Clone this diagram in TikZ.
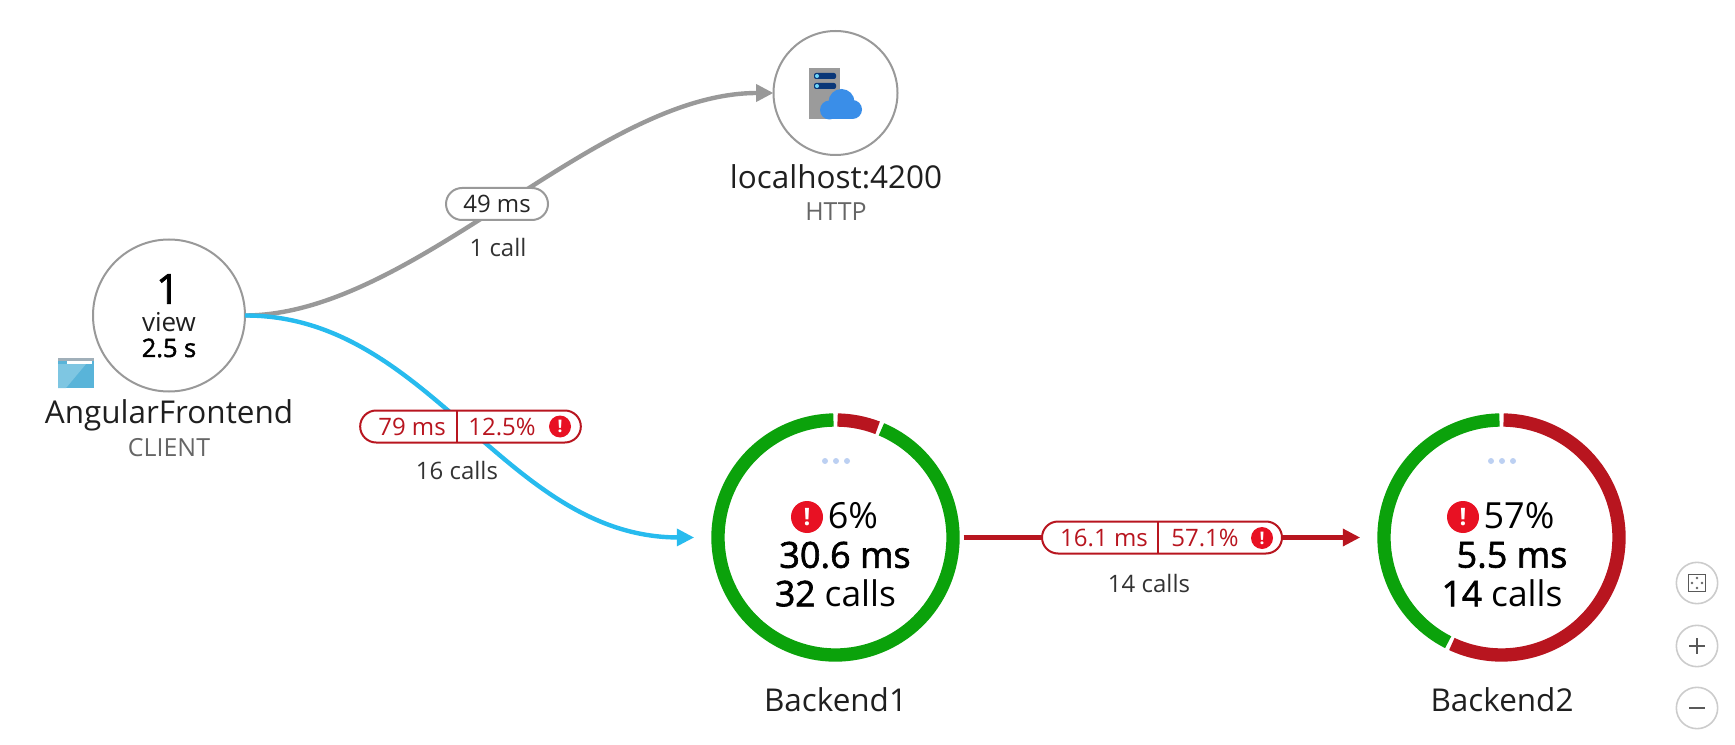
\documentclass[tikz,border=0pt]{standalone}
\usepackage{fontspec}
\setmainfont{Open Sans}
\newfontfamily\semifont[FakeBold=1.8]{Open Sans}
\usetikzlibrary{arrows.meta}

\definecolor{okgreen}{HTML}{0BA20B}
\definecolor{badred}{HTML}{B8151F}
\definecolor{iconred}{HTML}{E81123}
\definecolor{flowblue}{HTML}{27BBEE}
\definecolor{flowgrey}{HTML}{999999}
\definecolor{dotblue}{HTML}{BCD0F2}

\tikzset{every picture/.style={line width=0.75pt}}
\tikzset{
  hubnode/.style={circle,draw=flowgrey,line width=1.5pt,fill=white,inner sep=0pt,outer sep=0pt},
  ringnode/.style={circle,inner sep=0pt,outer sep=0pt,minimum size=186pt},
  ringok/.style={okgreen,line width=10pt},
  ringbad/.style={badred,line width=10pt},
  flowline/.style={line width=3.3pt,-{Triangle[length=13pt,width=12.5pt]}},
  pill/.style={draw,line width=1.5pt,fill=white,rounded corners=12pt,inner sep=0pt,minimum height=24pt},
  txt/.style={inner sep=0pt,outer sep=0pt,text=black!88},
  nametxt/.style={txt,font=\fontsize{23.6}{26}\selectfont},
  subtxt/.style={txt,text=black!60,font=\fontsize{18.7}{22}\selectfont},
  calltxt/.style={txt,text=black!80,font=\fontsize{18}{22}\selectfont},
  pilltxt/.style={txt,text=badred,font=\fontsize{18}{22}\selectfont},
  bigtxt/.style={txt,text=black,font=\fontsize{27}{30}\selectfont},
  alarm/.style={circle,fill=iconred,text=white,inner sep=0pt,minimum size=#1,font=\bfseries\fontsize{13}{14}\selectfont},
  bluedot/.style={circle,fill=dotblue,inner sep=0pt,minimum size=4.5pt},
  zoombtn/.style={circle,draw=black!20,line width=1.2pt,fill=white,inner sep=0pt,minimum size=31pt},
  zoomink/.style={black!65,line width=0.9pt}
}

\begin{document}
\begin{tikzpicture}[x=0.75pt,y=0.75pt,yscale=-1,xscale=1]
\useasboundingbox (0,0) rectangle (1735,745);

%Shape: Circle
\draw (169,315.5) node [hubnode,minimum size=114pt] (clientnode) {};
\draw (835.5,93) node [hubnode,minimum size=93pt] (httpnode) {};
\draw (835.5,537.5) node [ringnode] (backendone) {};
\draw (1501.5,537.5) node [ringnode] (backendtwo) {};

%Curve Lines
\draw [flowline,flowgrey] (clientnode.east) .. controls (415,315) and (595,93) .. (httpnode.west);
\draw [flowline,flowblue] (clientnode.east) .. controls (430,315) and (505,537) .. ([xshift=-13pt]backendone.west);
%Straight Lines
\draw [flowline,badred,shorten <=3pt] (backendone.east) -- ([xshift=-13pt]backendtwo.west);

%Rings
\draw [ringbad] (backendone.center) ++(-89:117.5) arc [start angle=-89,end angle=-69,radius=117.5] ;
\draw [ringok] (backendone.center) ++(-67:117.5) arc [start angle=-67,end angle=269,radius=117.5] ;
\draw [ringbad] (backendtwo.center) ++(-89:117.5) arc [start angle=-89,end angle=115,radius=117.5] ;
\draw [ringok] (backendtwo.center) ++(117:117.5) arc [start angle=117,end angle=269,radius=117.5] ;

%Pills
\draw (497,204) node [pill,draw=flowgrey,minimum width=76.5pt] (pillhttp) {};
\draw (470.5,426.5) node [pill,draw=badred,minimum width=165.5pt] (pillone) {};
\draw (1162,537.5) node [pill,draw=badred,minimum width=180pt] (pilltwo) {};
\draw [badred,line width=1pt] (457,410) -- (457,443) ;
\draw [badred,line width=1pt] (1158,522) -- (1158,553) ;

% Text Node
\draw (497,204) node [calltxt,text=black!85] (lathttp) {49 ms};
\draw (498,248) node [calltxt] (callhttp) {1 call};
\draw (412,426.5) node [pilltxt] (latone) {79 ms};
\draw (502,426.5) node [pilltxt] (errone) {12.5\%};
\draw (560,426.5) node [alarm=16.5pt] (alarmone) {!};
\draw (457,470) node [calltxt] (callone) {16 calls};
\draw (1104,537.5) node [pilltxt] (lattwo) {16.1 ms};
\draw (1205,537.5) node [pilltxt] (errtwo) {57.1\%};
\draw (1262,538) node [alarm=16.5pt] (alarmtwo) {!};
\draw (1149,583) node [calltxt] (calltwo) {14 calls};

% Text Node
\draw (168,289) node [txt,text=black,font=\semifont\fontsize{31}{33}\selectfont] (viewcount) {1};
\draw (169,322.5) node [txt,font=\fontsize{19.5}{22}\selectfont] (viewword) {view};
\draw (169,348) node [txt,text=black,font=\semifont\fontsize{19}{22}\selectfont] (viewtime) {2.5 s};
\draw (169,415) node [nametxt] (clientname) {AngularFrontend};
\draw (169,448) node [subtxt] (clienttype) {CLIENT};
\draw (836,177) node [nametxt] (httpname) {localhost:4200};
\draw (836,212) node [subtxt] (httptype) {HTTP};
\draw (835.5,700) node [nametxt] (onename) {Backend1};
\draw (1502,700) node [nametxt] (twoname) {Backend2};

% Backend1 figures
\draw (825,461) node [bluedot] (dotonea) {};
\draw (836,461) node [bluedot] (dotoneb) {};
\draw (847,461) node [bluedot] (dotonec) {};
\draw (807,517) node [alarm=24pt,font=\bfseries\fontsize{18}{20}\selectfont] (alarmthree) {!};
\draw (853,516) node [bigtxt] (errthree) {6\%};
\draw (845,555) node [bigtxt,font=\semifont\fontsize{27}{30}\selectfont] (latthree) {30.6 ms};
\draw (835.5,593) node [bigtxt,font=\fontsize{26.5}{30}\selectfont] (callthree) {{\semifont 32} calls};

% Backend2 figures
\draw (1491,461) node [bluedot] (dottwoa) {};
\draw (1502,461) node [bluedot] (dottwob) {};
\draw (1513,461) node [bluedot] (dottwoc) {};
\draw (1463,517) node [alarm=24pt,font=\bfseries\fontsize{18}{20}\selectfont] (alarmfour) {!};
\draw (1519,516) node [bigtxt] (errfour) {57\%};
\draw (1512,555) node [bigtxt,font=\semifont\fontsize{27}{30}\selectfont] (latfour) {5.5 ms};
\draw (1502,593) node [bigtxt,font=\fontsize{26.5}{30}\selectfont] (callfour) {{\semifont 14} calls};

%Icon: window
\fill [fill={rgb,255:red,89;green,180;blue,217}] (58,358) rectangle (94,388) ;
\fill [fill={rgb,255:red,126;green,198;blue,226}] (58,388) -- (58,364) -- (86,364) -- (66,388) -- cycle ;
\fill [fill={rgb,255:red,160;green,175;blue,185}] (58,358) rectangle (94,361) ;
\fill [white] (67,361) rectangle (92,364) ;

%Icon: server and cloud
\fill [fill={rgb,255:red,155;green,155;blue,155}] (809,68) rectangle (840,119) ;
\fill [fill={rgb,255:red,10;green,55;blue,120},rounded corners=1.5pt] (814,73) rectangle (836,79) ;
\fill [fill={rgb,255:red,10;green,55;blue,120},rounded corners=1.5pt] (814,83) rectangle (836,89) ;
\fill [fill={rgb,255:red,110;green,215;blue,250}] (817,76) circle [radius=2] ;
\fill [fill={rgb,255:red,110;green,215;blue,250}] (817,86) circle [radius=2] ;
\fill [fill={rgb,255:red,58;green,142;blue,232}] (841.5,102) circle [radius=13] ;
\fill [fill={rgb,255:red,58;green,142;blue,232}] (829.5,110) circle [radius=9.5] ;
\fill [fill={rgb,255:red,58;green,142;blue,232}] (852.5,109.5) circle [radius=9.5] ;
\fill [fill={rgb,255:red,58;green,142;blue,232}] (829.5,106) rectangle (852.5,119.2) ;

%Zoom controls
\draw (1697,583) node [zoombtn] (fitbtn) {};
\draw (1697,646) node [zoombtn] (plusbtn) {};
\draw (1697,708) node [zoombtn] (minusbtn) {};
\draw [zoomink] (1688.5,574.5) rectangle (1705.5,591.5) ;
\fill [black!60] (1697,578) circle [radius=1.3] (1697,588) circle [radius=1.3] (1692,583) circle [radius=1.3] (1702,583) circle [radius=1.3] ;
\draw [zoomink] (1689,646) -- (1705,646) (1697,638) -- (1697,654) ;
\draw [zoomink] (1689,708) -- (1705,708) ;
\end{tikzpicture}
\end{document}
